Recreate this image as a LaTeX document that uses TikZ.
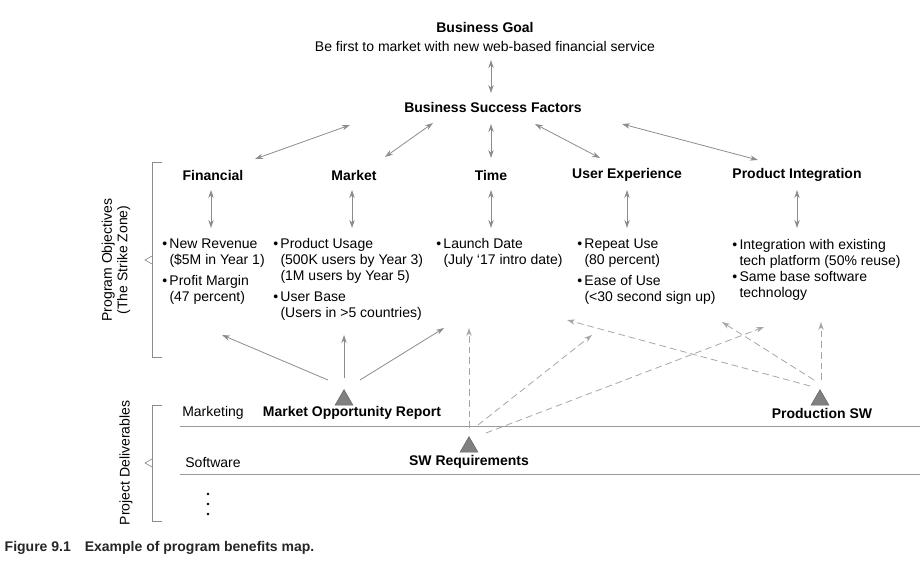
\documentclass[tikz,border=0pt]{standalone}
\usepackage{fontspec}
\setmainfont{Liberation Sans}
\usetikzlibrary{arrows.meta,shapes.geometric}
\begin{document}
\begin{tikzpicture}[x=0.75pt,y=-0.75pt,
  font=\fontsize{10.5}{12}\selectfont,
  hd/.style={font=\fontsize{10.5}{12}\selectfont\bfseries},
  arr/.style={draw=black!45,line width=0.6pt,-{Stealth[length=6pt,width=4pt]}},
  darr/.style={arr,{Stealth[length=6pt,width=4pt]}-{Stealth[length=6pt,width=4pt]}},
  dsh/.style={arr,draw=black!35,dash pattern=on 5pt off 3pt},
  tri/.style={regular polygon,regular polygon sides=3,fill=black!50,draw=black!60,inner sep=0pt,minimum size=15.5pt},
  blt/.style={anchor=north west,inner sep=0pt,align=left},
  brk/.style={draw=black!45,line width=0.5pt},
  rl/.style={draw=black!40,line width=0.6pt}]
\useasboundingbox (0,0) rectangle (924,581);
\node[hd] (goal) at (485,27) {Business Goal};
\node (goalt) at (485,46) {Be first to market with new web-based financial service};
\node[hd] (bsf) at (493,107) {Business Success Factors};
\coordinate (g1) at (491,60); \coordinate (g2) at (491,93);
\draw[darr] (g1) -- (g2);
\node[hd] (fin) at (213,175) {Financial};
\node[hd] (mkt) at (354,175) {Market};
\node[hd] (tim) at (491,175) {Time};
\node[hd] (ux) at (627,175) {User Experience};
\node[hd] (pi) at (797,175) {Product Integration};
\coordinate (b1) at (350,125); \coordinate (e1) at (255,159);
\coordinate (b2) at (433,123); \coordinate (e2) at (385,157);
\coordinate (b3) at (491,124); \coordinate (e3) at (491,158);
\coordinate (b4) at (535,124); \coordinate (e4) at (600,158);
\coordinate (b5) at (622,124); \coordinate (e5) at (758,160);
\foreach \i in {1,...,5} \draw[darr] (b\i) -- (e\i);
\foreach \x in {211,352,491,627,797} \draw[darr] (\x,190) -- (\x,228);
\newcommand{\mybul}{\textbullet}
\node[blt] (lfin) at (162,237) {\begin{tabular}{@{}l@{\,}l@{}}\mybul&New Revenue\\&(\$5M in Year 1)\\[4pt]\mybul&Profit Margin\\&(47 percent)\end{tabular}};
\node[blt] (lmkt) at (273,237) {\begin{tabular}{@{}l@{\,}l@{}}\mybul&Product Usage\\&(500K users by Year 3)\\&(1M users by Year 5)\\[4pt]\mybul&User Base\\&(Users in >5 countries)\end{tabular}};
\node[blt] (ltim) at (436,237) {\begin{tabular}{@{}l@{\,}l@{}}\mybul&Launch Date\\&(July ‘17 intro date)\end{tabular}};
\node[blt] (lux) at (577,237) {\begin{tabular}{@{}l@{\,}l@{}}\mybul&Repeat Use\\&(80 percent)\\[4pt]\mybul&Ease of Use\\&(<30 second sign up)\end{tabular}};
\node[blt] (lpi) at (732,238) {\begin{tabular}{@{}l@{\,}l@{}}\mybul&Integration with existing\\&tech platform (50\% reuse)\\\mybul&Same base software\\&technology\end{tabular}};
% brackets
\draw[brk] (162,162) -- (152,162) -- (152,357) -- (162,357);
\draw[brk] (152,256) -- (145,260) -- (152,264);
\node[rotate=90,align=center,font=\fontsize{10.5}{11.5}\selectfont] (po) at (116,260) {Program Objectives\\(The Strike Zone)};
\draw[brk] (162,405) -- (152,405) -- (152,521) -- (162,521);
\draw[brk] (152,459) -- (145,463) -- (152,467);
\node[rotate=90] (pd) at (126,463) {Project Deliverables};
% rows
\coordinate (l1a) at (180,426); \coordinate (l1b) at (920,426);
\coordinate (l2a) at (180,474); \coordinate (l2b) at (920,474);
\draw[rl] (l1a) -- (l1b); \draw[rl] (l2a) -- (l2b);
\node (mk) at (213,413) {Marketing};
\node (sw) at (213,462) {Software};
\node[hd] (mor) at (352,413) {Market Opportunity Report};
\node[hd] (swr) at (469,462) {SW Requirements};
\node[hd] (psw) at (822,413) {Production SW};
\node[tri] (t1) at (344,400) {};
\node[tri] (t2) at (469,447) {};
\node[tri] (t3) at (820,400) {};
\foreach \y in {494,504,514} \fill (208,\y) circle (1.1pt);
% solid arrows
\coordinate (s1) at (328,380); \coordinate (f1) at (222,335);
\coordinate (s2) at (344,378); \coordinate (f2) at (344,335);
\coordinate (s3) at (360,380); \coordinate (f3) at (444,328);
\foreach \i in {1,2,3} \draw[arr] (s\i) -- (f\i);
% dashed arrows
\coordinate (r1) at (469,428); \coordinate (q1) at (469,328);
\coordinate (r2) at (478,425); \coordinate (q2) at (592,335);
\coordinate (r3) at (486,433); \coordinate (q3) at (764,327);
\coordinate (r4) at (810,386); \coordinate (q4) at (567,320);
\coordinate (r5) at (814,380); \coordinate (q5) at (722,322);
\coordinate (r6) at (821,380); \coordinate (q6) at (821,322);
\foreach \i in {1,...,6} \draw[dsh] (r\i) -- (q\i);
\node[anchor=west,font=\fontsize{10.5}{12}\selectfont\bfseries,text=black!85] (cap) at (0,548) {Figure 9.1\quad Example of program benefits map.};
\end{tikzpicture}
\end{document}
